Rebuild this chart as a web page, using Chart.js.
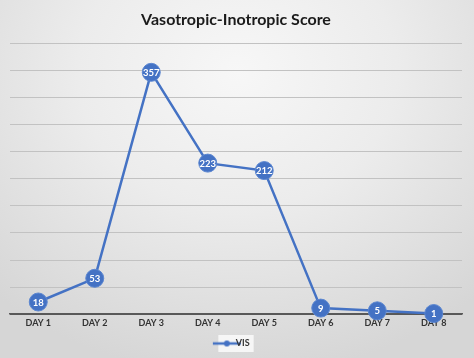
<!DOCTYPE html>
<html>
<head>
<meta charset="utf-8">
<script src="https://cdn.jsdelivr.net/npm/chart.js@4/dist/chart.umd.min.js"></script>
<style>
  html, body { margin: 0; padding: 0; }
  body {
    width: 474px; height: 358px; overflow: hidden;
    background: radial-gradient(ellipse 75% 85% at 50% 20%, #f7f7f7 0%, #ececec 45%, #d6d6d6 100%);
  }
  #wrap { position: relative; width: 474px; height: 358px; }
</style>
</head>
<body>
<div id="wrap"><canvas id="c" width="474" height="358"></canvas></div>
<script>
const categories = ["DAY 1", "DAY 2", "DAY 3", "DAY 4", "DAY 5", "DAY 6", "DAY 7", "DAY 8"];
const visValues = [18, 53, 357, 223, 212, 9, 5, 1];
const seriesName = "VIS";
const chartTitle = "Vasotropic-Inotropic Score";

const blue = '#4472C4';
const fontFam = 'Lato, "Open Sans", "Liberation Sans", sans-serif';

// legend marker: line with a dot
const marker = document.createElement('canvas');
marker.width = 30; marker.height = 10;
(function(){
  const g = marker.getContext('2d');
  g.strokeStyle = blue; g.lineWidth = 2.5;
  g.beginPath(); g.moveTo(1, 5); g.lineTo(29, 5); g.stroke();
  g.fillStyle = blue;
  g.beginPath(); g.arc(15, 5, 3, 0, Math.PI * 2); g.fill();
})();

const pointLabels = {
  id: 'pointLabels',
  afterDatasetsDraw(chart) {
    const ctx = chart.ctx;
    const meta = chart.getDatasetMeta(0);
    ctx.save();
    ctx.fillStyle = '#ffffff';
    ctx.font = 'bold 9.5px ' + fontFam;
    ctx.textAlign = 'center';
    ctx.textBaseline = 'middle';
    meta.data.forEach((pt, i) => {
      ctx.fillText(String(chart.data.datasets[0].data[i]), pt.x, pt.y + 0.5);
    });
    ctx.restore();
  }
};

const legendBox = {
  id: 'legendBox',
  beforeDraw(chart) {
    const lg = chart.legend;
    if (!lg || !lg.legendHitBoxes || !lg.legendHitBoxes.length) return;
    const hb = lg.legendHitBoxes[0];
    const ctx = chart.ctx;
    ctx.save();
    ctx.fillStyle = 'rgba(250,250,250,0.85)';
    ctx.fillRect(hb.left - 4, hb.top - 4, hb.width + 8, hb.height + 8);
    ctx.restore();
  }
};

new Chart(document.getElementById('c'), {
  type: 'line',
  data: {
    labels: categories,
    datasets: [{
      label: seriesName,
      data: visValues,
      borderColor: blue,
      backgroundColor: blue,
      borderWidth: 2.5,
      pointRadius: 9,
      pointHoverRadius: 9,
      pointBackgroundColor: blue,
      pointBorderColor: '#5b86d0',
      pointBorderWidth: 1,
      tension: 0,
      clip: false
    }]
  },
  options: {
    responsive: false,
    animation: false,
    layout: { padding: { left: 10, right: 12, top: 4, bottom: 0 } },
    plugins: {
      title: {
        display: true,
        text: chartTitle,
        color: '#1a1a1a',
        font: { family: fontFam, size: 16, weight: 'bold' },
        padding: { top: 6, bottom: 14 }
      },
      legend: {
        position: 'bottom',
        labels: {
          usePointStyle: true,
          pointStyle: marker,
          color: '#333333',
          font: { family: fontFam, size: 9, weight: 'bold' },
          padding: 4,
          boxHeight: 10
        }
      },
      tooltip: { enabled: false }
    },
    scales: {
      x: {
        offset: true,
        grid: { display: false, drawTicks: false },
        border: { display: true, color: '#595959', width: 1.5 },
        afterFit: (s) => { s.height += 4; },
        ticks: {
          color: '#333333',
          font: { family: fontFam, size: 9, weight: 'bold' },
          padding: 3,
          maxRotation: 0
        }
      },
      y: {
        min: 0, max: 400,
        ticks: { display: false, stepSize: 40 },
        grid: {
          color: (c) => c.tick && c.tick.value === 0 ? '#595959' : '#c2c2c2',
          lineWidth: 1,
          drawTicks: false
        },
        border: { display: false }
      }
    }
  },
  plugins: [pointLabels, legendBox]
});
</script>
</body>
</html>
